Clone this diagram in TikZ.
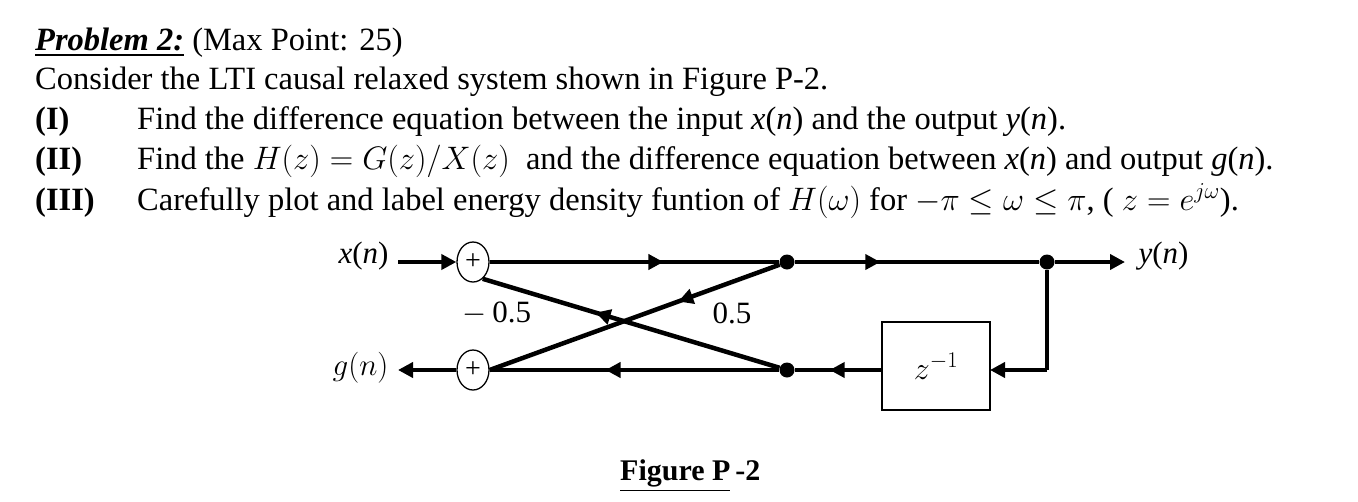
\documentclass[tikz,border=0pt]{standalone}
\usepackage{fix-cm}
\usepackage{amsmath,amssymb}
\usepackage{fontspec}
\setmainfont{Liberation Serif}
\usetikzlibrary{decorations.markings,arrows.meta,shapes.geometric}
\begin{document}
\begin{tikzpicture}[x=1pt,y=-1pt,
  wire/.style={line width=4.5pt},
  tip/.style={-{Triangle[length=15pt,width=15pt]}},
  midarrow/.style={postaction={decorate},decoration={markings,mark=at position #1 with {\arrow{Triangle[length=15pt,width=15pt]}}}},
  adder/.style={ellipse,draw,line width=1.3pt,minimum width=32pt,minimum height=40pt,inner sep=0pt,fill=white,font=\fontsize{28}{28}\selectfont},
  dot/.style={circle,fill=black,minimum size=15pt,inner sep=0pt},
  lab/.style={font=\fontsize{31}{31}\selectfont},
  txt/.style={anchor=base west,inner sep=0pt,font=\fontsize{32.5}{36}\selectfont}]
\useasboundingbox (0,0) rectangle (1358,501);
% text
\node[txt] (t0) at (35,50) {\textbf{\textit{\underline{Problem 2:}}} (Max Point: 25)};
\node[txt] (t1) at (35,89) {Consider the LTI causal relaxed system shown in Figure P-2.};
\node[txt] (l1) at (35,129) {\textbf{(I)}};
\node[txt] (t2) at (137,129) {Find the difference equation between the input \textit{x}(\textit{n}) and the output \textit{y}(\textit{n}).};
\node[txt] (l2) at (35,169) {\textbf{(II)}};
\node[txt] (t3) at (137,169) {Find the $H(z)=G(z)/X(z)$ \ and the difference equation between \textit{x}(\textit{n}) and output \textit{g}(\textit{n}).};
\node[txt] (l3) at (35,210) {\textbf{(III)}};
\node[txt] (t4) at (137,210) {Carefully plot and label energy density funtion of $H(\omega)$ for $-\pi\le\omega\le\pi$, ( $z=e^{j\omega}$).};
% diagram nodes
\node[lab,anchor=east] (xn) at (392,256) {\textit{x}(\textit{n})};
\node[lab,anchor=east] (gn) at (392,368) {$g(n)$};
\node[lab,anchor=west] (yn) at (1135,256) {\textit{y}(\textit{n})};
\coordinate (xs) at (398,262);
\coordinate (ge) at (398,370);
\coordinate (ye) at (1125,262);
\node[dot] (d1) at (787,262) {};
\node[dot] (d2) at (787,370) {};
\node[dot] (d3) at (1047,262) {};
\coordinate (c3) at (1047,370);
\node[draw,line width=1.3pt,minimum width=108pt,minimum height=88pt,inner sep=0pt,font=\fontsize{32}{32}\selectfont] (z) at (936,366) {$z^{-1}$};
\coordinate (ze) at (990,370);
\coordinate (zw) at (882,370);
\node[adder] (a1) at (473,262) {+};
\node[adder] (a2) at (473,370) {+};
% wires
\draw[wire,tip] (xs) -- (a1.west);
\draw[wire,midarrow=0.6] (a1.east) -- (d1);
\draw[wire,midarrow=0.35] (d1) -- (d3);
\draw[wire,tip] (d3) -- (ye);
\draw[wire] (d3) -- (c3);
\draw[wire,tip] (c3) -- (ze);
\draw[wire,midarrow=0.6] (zw) -- (d2);
\draw[wire,midarrow=0.6] (d2) -- (a2.east);
\draw[wire,tip] (a2.west) -- (ge);
\draw[wire,midarrow=0.35] (d1) -- (a2.east);
\draw[wire,midarrow=0.62] (d2) -- (a1.-60);
\node[lab] (m5) at (497,313) {$-$\,0.5};
\node[lab] (p5) at (732,313) {0.5};
\node[txt,font=\fontsize{30}{33}\selectfont\bfseries] (fig) at (620,480) {\underline{Figure P}\,-2};
\end{tikzpicture}
\end{document}
